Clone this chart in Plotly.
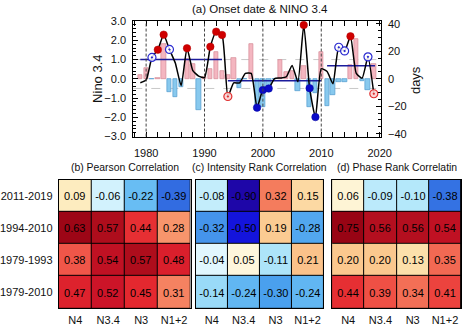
import plotly.graph_objects as go

# ---------------- data: panel (a) ----------------
years = list(range(1979, 2020))
nino34 = [0.18, 0.58, -0.03, 0.05, 1.82, -0.68, -0.95, -0.45, 1.03, 0.78,
          -1.60, 0.10, 0.53, 1.37, 0.40, 0.17, 1.07, -0.47, -0.03, 1.82,
          -1.40, -1.47, -0.68, -0.03, 1.00, 0.37, 0.42, -0.64, 0.68, -1.48,
          -0.72, 1.38, -1.40, -0.83, -0.15, -0.15, 0.70, 2.07, -0.12, -0.58,
          0.77]
onset_days = [-2.8, -0.9, 15.6, 21.2, 32.2, 21.4, 11.5, -5.0, 22.3, 6.0,
              2.0, 0.9, 23.4, 34.4, 32.0, -12.9, -3.0, -3.0, 4.0, 4.0,
              -21.0, -8.2, -7.0, 0.2, 0.6, 1.4, 9.8, -2.2, 39.2, -6.8,
              -27.9, 7.4, 5.3, -3.6, 23.0, 20.3, 31.0, 3.9, 0.5, 16.0,
              -10.9]
red_fill_years = [1982, 1983, 1987, 1991, 1992, 1993, 2007, 2015]
blue_open_years = [1981, 1984, 2013, 2014, 2018]
blue_fill_years = [1999, 2000, 2001, 2008, 2009]
red_open_years = [1994, 2019]
period_start = [1979, 1994, 2011]
period_end = [1993, 2010, 2019.2]
period_mean_days = [14.1, -1.4, 9.5]
ref_nino = [1.0, -0.5]
decades = [1980, 1990, 2000, 2010]

# ---------------- data: panels (b)-(d) ----------------
rows = ["2011-2019", "1994-2010", "1979-1993", "1979-2010"]
cols = ["N4", "N3.4", "N3", "N1+2"]
pearson = [[0.09, -0.06, -0.22, -0.39],
           [0.63, 0.57, 0.44, 0.28],
           [0.38, 0.54, 0.57, 0.48],
           [0.47, 0.52, 0.45, 0.31]]
intensity = [[-0.08, -0.90, 0.32, 0.15],
             [-0.32, -0.50, 0.19, -0.28],
             [-0.04, 0.05, -0.11, 0.21],
             [-0.14, -0.24, -0.30, -0.24]]
phase = [[0.06, -0.09, -0.10, -0.38],
         [0.75, 0.56, 0.56, 0.54],
         [0.20, 0.20, 0.13, 0.35],
         [0.44, 0.39, 0.34, 0.41]]
panel_titles = ["(b) Pearson Correlation", "(c) Intensity Rank Correlation",
                "(d) Phase Rank Correlatin"]

FONT = "Liberation Sans, Arial, sans-serif"
W, H = 474, 326

def px_x(p):
    return p / W

def px_y(p):
    return 1 - p / H

fig = go.Figure()

# bars (Nino 3.4)
bar_colors = ["#f4b6c0" if v >= 0 else "#88c9ee" for v in nino34]
bar_lines = ["#d8909c" if v >= 0 else "#5aa2d2" for v in nino34]
fig.add_trace(go.Bar(x=years, y=nino34, width=0.75,
                     marker=dict(color=bar_colors, line=dict(color=bar_lines, width=0.8)),
                     xaxis="x", yaxis="y", showlegend=False))

# period mean lines
for s, e, m in zip(period_start, period_end, period_mean_days):
    fig.add_trace(go.Scatter(x=[s, e], y=[m, m], mode="lines",
                             line=dict(color="#1c1c9c", width=1.6),
                             xaxis="x", yaxis="y2", showlegend=False))

# onset line
fig.add_trace(go.Scatter(x=years, y=onset_days, mode="lines",
                         line=dict(color="black", width=1.5, shape="spline", smoothing=0.5),
                         xaxis="x", yaxis="y2", showlegend=False))

def sel(yrs):
    xs = [y for y in years if y in yrs]
    ys = [d for y, d in zip(years, onset_days) if y in yrs]
    return xs, ys

xs, ys = sel(red_fill_years)
fig.add_trace(go.Scatter(x=xs, y=ys, mode="markers",
                         marker=dict(symbol="circle", size=7.5, color="#d00000",
                                     line=dict(color="#b00000", width=0.5)),
                         xaxis="x", yaxis="y2", showlegend=False))
xs, ys = sel(blue_fill_years)
fig.add_trace(go.Scatter(x=xs, y=ys, mode="markers",
                         marker=dict(symbol="circle", size=7.5, color="#0a0ac8",
                                     line=dict(color="#0808a0", width=0.5)),
                         xaxis="x", yaxis="y2", showlegend=False))
xs, ys = sel(blue_open_years)
fig.add_trace(go.Scatter(x=xs, y=ys, mode="markers",
                         marker=dict(symbol="circle-dot", size=8, color="rgba(255,255,255,0.85)",
                                     line=dict(color="#2a2ad0", width=1.2)),
                         xaxis="x", yaxis="y2", showlegend=False))
xs, ys = sel(red_open_years)
fig.add_trace(go.Scatter(x=xs, y=ys, mode="markers",
                         marker=dict(symbol="circle-dot", size=8, color="rgba(250,210,210,0.9)",
                                     line=dict(color="#e03030", width=1.2)),
                         xaxis="x", yaxis="y2", showlegend=False))

# reference dashed lines
for r in ref_nino:
    fig.add_shape(type="line", xref="x domain", yref="y", x0=0, x1=1, y0=r, y1=r,
                  line=dict(color="#c8c8c8", width=1, dash="dash"), layer="below")
for d in decades:
    fig.add_shape(type="line", xref="x", yref="y domain", x0=d, x1=d, y0=0, y1=1,
                  line=dict(color="#444444", width=1, dash="3px,2px"), layer="above")

# ---------------- heatmaps ----------------
zmin, zmax = -0.6, 0.65
anchors = [(-0.60, "#1e06a8"), (-0.50, "#1414dc"), (-0.40, "#2f66e0"),
           (-0.30, "#4aa0ee"), (-0.20, "#70c4f4"), (-0.10, "#b4e8fa"),
           (-0.03, "#e8f9ff"), (0.03, "#fffbea"), (0.10, "#fdeab8"),
           (0.20, "#fbc88e"), (0.30, "#f68864"), (0.40, "#ee4a42"),
           (0.45, "#e4282f"), (0.52, "#cc1428"), (0.58, "#a80c1a"),
           (0.65, "#980414")]
cscale = [[(v - zmin) / (zmax - zmin), c] for v, c in anchors]

hm_domains = [[51, 189], [194.5, 328], [337, 472]]
hm_y = [px_y(315), px_y(181)]
for i, (z, dom) in enumerate(zip([pearson, intensity, phase], hm_domains)):
    xa = "x%d" % (i + 2)
    ya = "y%d" % (i + 3)
    fig.add_trace(go.Heatmap(z=z, x=cols, y=rows, colorscale=cscale, zmin=zmin, zmax=zmax,
                             showscale=False, xgap=1, ygap=1,
                             texttemplate="%{z:.2f}",
                             textfont=dict(size=11, color="black", family=FONT),
                             xaxis=xa, yaxis=ya, hoverinfo="skip"))
    fig.add_shape(type="rect", xref=xa, yref=ya, x0=-0.5, x1=3.5, y0=-0.5, y1=3.5,
                  fillcolor="black", line=dict(width=0), layer="below")
    fig.update_layout(**{
        "xaxis%d" % (i + 2): dict(domain=[px_x(dom[0]), px_x(dom[1])], anchor=ya,
                                  showgrid=False, zeroline=False, showline=True,
                                  linecolor="black", linewidth=1, mirror=True,
                                  ticks="", tickfont=dict(size=11, family=FONT, color="#111"),
                                  ticklabelstandoff=1, fixedrange=True),
        "yaxis%d" % (i + 3): dict(domain=hm_y, anchor=xa, autorange="reversed",
                                  showgrid=False, zeroline=False, showline=True,
                                  linecolor="black", linewidth=1, mirror=True,
                                  ticks="", showticklabels=(i == 0),
                                  tickfont=dict(size=11, family=FONT, color="#111"),
                                  ticklabelstandoff=3),
    })
    fig.add_annotation(x=px_x((dom[0] + dom[1]) / 2), y=px_y(168.5), xref="paper", yref="paper",
                       text=panel_titles[i], showarrow=False,
                       font=dict(size=10.4, family=FONT, color="#111"),
                       xanchor="center", yanchor="middle")

# ---------------- layout panel (a) ----------------
top_dom = [px_y(136), px_y(15.7)]
fig.update_layout(
    width=W, height=H, margin=dict(l=0, r=0, t=0, b=0),
    paper_bgcolor="white", plot_bgcolor="white",
    font=dict(family=FONT, color="#111"),
    bargap=0,
    xaxis=dict(domain=[px_x(129), px_x(388)], anchor="y", range=[1977.8, 2020.2],
               tickvals=[1980, 1990, 2000, 2010, 2020], ticks="inside", ticklen=5,
               tickcolor="black", minor=dict(dtick=2, tick0=1980, ticklen=3, ticks="inside",
                                             tickcolor="black"),
               showline=True, linecolor="black", linewidth=1, mirror="allticks",
               showgrid=False, zeroline=False, tickfont=dict(size=11, family=FONT),
               ticklabelstandoff=6),
    yaxis=dict(domain=top_dom, anchor="x", range=[-3, 3], tickvals=[-3, -2, -1, 0, 1, 2, 3],
               tickformat=".1f", ticks="inside", ticklen=5, tickcolor="black",
               minor=dict(dtick=0.2, ticklen=3, ticks="inside", tickcolor="black"),
               showline=True, linecolor="black", linewidth=1,
               showgrid=False, zeroline=False, tickfont=dict(size=11, family=FONT),
               ticklabelstandoff=4),
    yaxis2=dict(overlaying="y", side="right", anchor="x", range=[-42.1, 42.1],
                tickvals=[-40, -20, 0, 20, 40], ticks="inside", ticklen=5, tickcolor="black",
                minor=dict(dtick=5, ticklen=3, ticks="inside", tickcolor="black"),
                showline=True, linecolor="black", linewidth=1,
                showgrid=False, zeroline=False, tickfont=dict(size=11, family=FONT),
                ticklabelstandoff=4),
)

fig.add_annotation(x=px_x(262), y=px_y(3), xref="paper", yref="paper",
                   text="(a) Onset date & NINO 3.4", showarrow=False,
                   font=dict(size=11.5, family=FONT, color="#111"),
                   xanchor="center", yanchor="middle")
fig.add_annotation(x=px_x(92), y=px_y(76), xref="paper", yref="paper",
                   text="Nino 3.4", showarrow=False, textangle=-90,
                   font=dict(size=13, family=FONT, color="#111"),
                   xanchor="center", yanchor="middle")
fig.add_annotation(x=px_x(425), y=px_y(77), xref="paper", yref="paper",
                   text="days", showarrow=False, textangle=-90,
                   font=dict(size=13, family=FONT, color="#111"),
                   xanchor="center", yanchor="middle")

fig.write_html("out.html")
